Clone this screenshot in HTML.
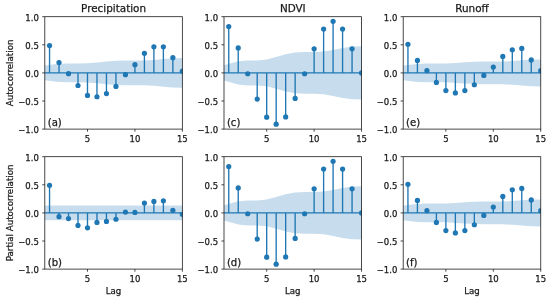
<!DOCTYPE html>
<html><head><meta charset="utf-8"><title>ACF / PACF</title>
<style>html,body{margin:0;padding:0;background:#fff}svg{display:block}</style>
</head><body>
<svg width="550" height="300" viewBox="0 0 550 300" font-family="'DejaVu Sans', 'Liberation Sans', sans-serif" fill="#1a1a1a" stroke="#1a1a1a" stroke-width="0.25">
<rect width="550" height="300" fill="#fff" stroke="none"/>
<clipPath id="c00"><rect x="44.80" y="16.70" width="137.55" height="112.40"/></clipPath>
<g clip-path="url(#c00)">
<polygon stroke="none" fill="#c7dded" points="44.80,65.43 59.03,63.82 68.52,63.62 78.00,63.62 87.49,63.32 96.97,62.43 106.46,61.51 115.95,60.87 125.43,60.60 134.92,60.60 144.41,60.50 153.89,59.97 163.38,59.07 172.86,58.22 187.09,57.95 187.09,87.85 172.86,87.58 163.38,86.73 153.89,85.83 144.41,85.30 134.92,85.20 125.43,85.20 115.95,84.93 106.46,84.29 96.97,83.37 87.49,82.48 78.00,82.18 68.52,82.18 59.03,81.98 44.80,80.37"/>
<path d="M49.54 72.90V45.53M59.03 72.90V62.62M68.52 72.90V73.69M78.00 72.90V85.49M87.49 72.90V95.38M96.97 72.90V96.73M106.46 72.90V93.58M115.95 72.90V86.39M125.43 72.90V74.70M134.92 72.90V64.69M144.41 72.90V53.34M153.89 72.90V46.82M163.38 72.90V46.82M172.86 72.90V57.67M182.35 72.90V71.21" stroke="#1f77b4" stroke-width="1.35" fill="none"/>
<path d="M44.80 72.90H182.35" stroke="#1f77b4" stroke-width="1.4" fill="none"/>
</g>
<g clip-path="url(#c00)" fill="#1f77b4" stroke="none">
<circle cx="49.54" cy="45.53" r="2.6"/>
<circle cx="59.03" cy="62.62" r="2.6"/>
<circle cx="68.52" cy="73.69" r="2.6"/>
<circle cx="78.00" cy="85.49" r="2.6"/>
<circle cx="87.49" cy="95.38" r="2.6"/>
<circle cx="96.97" cy="96.73" r="2.6"/>
<circle cx="106.46" cy="93.58" r="2.6"/>
<circle cx="115.95" cy="86.39" r="2.6"/>
<circle cx="125.43" cy="74.70" r="2.6"/>
<circle cx="134.92" cy="64.69" r="2.6"/>
<circle cx="144.41" cy="53.34" r="2.6"/>
<circle cx="153.89" cy="46.82" r="2.6"/>
<circle cx="163.38" cy="46.82" r="2.6"/>
<circle cx="172.86" cy="57.67" r="2.6"/>
<circle cx="182.35" cy="71.21" r="2.6"/>
</g>
<path d="M44.80 129.10h-2.6M44.80 101.00h-2.6M44.80 72.90h-2.6M44.80 44.80h-2.6M44.80 16.70h-2.6M87.49 129.10v2.6M134.92 129.10v2.6M182.35 129.10v2.6" stroke="#1c1c1c" stroke-width="0.8" fill="none"/>
<rect x="44.80" y="16.70" width="137.55" height="112.40" fill="none" stroke="#1c1c1c" stroke-width="0.8"/>
<g font-size="8.5">
<text x="38.90" y="132.90" text-anchor="end">−1.0</text>
<text x="38.90" y="104.80" text-anchor="end">−0.5</text>
<text x="38.90" y="76.70" text-anchor="end">0.0</text>
<text x="38.90" y="48.60" text-anchor="end">0.5</text>
<text x="38.90" y="20.50" text-anchor="end">1.0</text>
<text x="87.49" y="142.20" text-anchor="middle">5</text>
<text x="134.92" y="142.20" text-anchor="middle">10</text>
<text x="182.35" y="142.20" text-anchor="middle">15</text>
</g>
<text x="47.70" y="126.00" font-size="10.1">(a)</text>
<text x="113.58" y="11.70" font-size="10.4" text-anchor="middle">Precipitation</text>
<text transform="translate(13.0 72.90) rotate(-90)" font-size="8.7" text-anchor="middle">Autocorrelation</text>
<clipPath id="c01"><rect x="44.80" y="156.70" width="137.55" height="112.40"/></clipPath>
<g clip-path="url(#c01)">
<polygon stroke="none" fill="#c7dded" points="44.80,205.59 59.03,205.59 68.52,205.59 78.00,205.59 87.49,205.59 96.97,205.59 106.46,205.59 115.95,205.59 125.43,205.59 134.92,205.59 144.41,205.59 153.89,205.59 163.38,205.59 172.86,205.59 187.09,205.59 187.09,220.21 172.86,220.21 163.38,220.21 153.89,220.21 144.41,220.21 134.92,220.21 125.43,220.21 115.95,220.21 106.46,220.21 96.97,220.21 87.49,220.21 78.00,220.21 68.52,220.21 59.03,220.21 44.80,220.21"/>
<path d="M49.54 212.90V185.36M59.03 212.90V216.72M68.52 212.90V218.58M78.00 212.90V225.43M87.49 212.90V227.79M96.97 212.90V222.45M106.46 212.90V221.44M115.95 212.90V219.25M125.43 212.90V212.06M134.92 212.90V212.45M144.41 212.90V203.12M153.89 212.90V201.44M163.38 212.90V200.76M172.86 212.90V210.31M182.35 212.90V214.30" stroke="#1f77b4" stroke-width="1.35" fill="none"/>
<path d="M44.80 212.90H182.35" stroke="#1f77b4" stroke-width="1.4" fill="none"/>
</g>
<g clip-path="url(#c01)" fill="#1f77b4" stroke="none">
<circle cx="49.54" cy="185.36" r="2.6"/>
<circle cx="59.03" cy="216.72" r="2.6"/>
<circle cx="68.52" cy="218.58" r="2.6"/>
<circle cx="78.00" cy="225.43" r="2.6"/>
<circle cx="87.49" cy="227.79" r="2.6"/>
<circle cx="96.97" cy="222.45" r="2.6"/>
<circle cx="106.46" cy="221.44" r="2.6"/>
<circle cx="115.95" cy="219.25" r="2.6"/>
<circle cx="125.43" cy="212.06" r="2.6"/>
<circle cx="134.92" cy="212.45" r="2.6"/>
<circle cx="144.41" cy="203.12" r="2.6"/>
<circle cx="153.89" cy="201.44" r="2.6"/>
<circle cx="163.38" cy="200.76" r="2.6"/>
<circle cx="172.86" cy="210.31" r="2.6"/>
<circle cx="182.35" cy="214.30" r="2.6"/>
</g>
<path d="M44.80 269.10h-2.6M44.80 241.00h-2.6M44.80 212.90h-2.6M44.80 184.80h-2.6M44.80 156.70h-2.6M87.49 269.10v2.6M134.92 269.10v2.6M182.35 269.10v2.6" stroke="#1c1c1c" stroke-width="0.8" fill="none"/>
<rect x="44.80" y="156.70" width="137.55" height="112.40" fill="none" stroke="#1c1c1c" stroke-width="0.8"/>
<g font-size="8.5">
<text x="38.90" y="272.90" text-anchor="end">−1.0</text>
<text x="38.90" y="244.80" text-anchor="end">−0.5</text>
<text x="38.90" y="216.70" text-anchor="end">0.0</text>
<text x="38.90" y="188.60" text-anchor="end">0.5</text>
<text x="38.90" y="160.50" text-anchor="end">1.0</text>
<text x="87.49" y="282.20" text-anchor="middle">5</text>
<text x="134.92" y="282.20" text-anchor="middle">10</text>
<text x="182.35" y="282.20" text-anchor="middle">15</text>
</g>
<text x="47.70" y="266.00" font-size="10.1">(b)</text>
<text x="113.58" y="294.00" font-size="8.6" text-anchor="middle">Lag</text>
<text transform="translate(13.0 212.90) rotate(-90)" font-size="8.7" text-anchor="middle">Partial Autocorrelation</text>
<clipPath id="c10"><rect x="224.00" y="16.70" width="137.55" height="112.40"/></clipPath>
<g clip-path="url(#c10)">
<polygon stroke="none" fill="#c7dded" points="224.00,65.37 238.23,61.33 247.72,60.40 257.20,60.40 266.69,59.45 276.17,57.05 285.66,54.31 295.15,52.52 304.63,51.96 314.12,51.96 323.61,51.47 333.09,49.91 342.58,47.92 352.06,46.58 366.29,46.19 366.29,99.61 352.06,99.22 342.58,97.88 333.09,95.89 323.61,94.33 314.12,93.84 304.63,93.84 295.15,93.28 285.66,91.49 276.17,88.75 266.69,86.35 257.20,85.40 247.72,85.40 238.23,84.47 224.00,80.43"/>
<path d="M228.74 72.90V26.54M238.23 72.90V47.95M247.72 72.90V73.74M257.20 72.90V99.06M266.69 72.90V117.13M276.17 72.90V124.15M285.66 72.90V116.96M295.15 72.90V98.39M304.63 72.90V73.74M314.12 72.90V48.81M323.61 72.90V29.06M333.09 72.90V21.36M342.58 72.90V29.06M352.06 72.90V48.81M361.55 72.90V72.90" stroke="#1f77b4" stroke-width="1.35" fill="none"/>
<path d="M224.00 72.90H361.55" stroke="#1f77b4" stroke-width="1.4" fill="none"/>
</g>
<g clip-path="url(#c10)" fill="#1f77b4" stroke="none">
<circle cx="228.74" cy="26.54" r="2.6"/>
<circle cx="238.23" cy="47.95" r="2.6"/>
<circle cx="247.72" cy="73.74" r="2.6"/>
<circle cx="257.20" cy="99.06" r="2.6"/>
<circle cx="266.69" cy="117.13" r="2.6"/>
<circle cx="276.17" cy="124.15" r="2.6"/>
<circle cx="285.66" cy="116.96" r="2.6"/>
<circle cx="295.15" cy="98.39" r="2.6"/>
<circle cx="304.63" cy="73.74" r="2.6"/>
<circle cx="314.12" cy="48.81" r="2.6"/>
<circle cx="323.61" cy="29.06" r="2.6"/>
<circle cx="333.09" cy="21.36" r="2.6"/>
<circle cx="342.58" cy="29.06" r="2.6"/>
<circle cx="352.06" cy="48.81" r="2.6"/>
<circle cx="361.55" cy="72.90" r="2.6"/>
</g>
<path d="M224.00 129.10h-2.6M224.00 101.00h-2.6M224.00 72.90h-2.6M224.00 44.80h-2.6M224.00 16.70h-2.6M266.69 129.10v2.6M314.12 129.10v2.6M361.55 129.10v2.6" stroke="#1c1c1c" stroke-width="0.8" fill="none"/>
<rect x="224.00" y="16.70" width="137.55" height="112.40" fill="none" stroke="#1c1c1c" stroke-width="0.8"/>
<g font-size="8.5">
<text x="218.10" y="132.90" text-anchor="end">−1.0</text>
<text x="218.10" y="104.80" text-anchor="end">−0.5</text>
<text x="218.10" y="76.70" text-anchor="end">0.0</text>
<text x="218.10" y="48.60" text-anchor="end">0.5</text>
<text x="218.10" y="20.50" text-anchor="end">1.0</text>
<text x="266.69" y="142.20" text-anchor="middle">5</text>
<text x="314.12" y="142.20" text-anchor="middle">10</text>
<text x="361.55" y="142.20" text-anchor="middle">15</text>
</g>
<text x="226.90" y="126.00" font-size="10.1">(c)</text>
<text x="292.77" y="11.70" font-size="10.4" text-anchor="middle">NDVI</text>
<clipPath id="c11"><rect x="224.00" y="156.70" width="137.55" height="112.40"/></clipPath>
<g clip-path="url(#c11)">
<polygon stroke="none" fill="#c7dded" points="224.00,205.37 238.23,201.33 247.72,200.40 257.20,200.40 266.69,199.45 276.17,197.05 285.66,194.31 295.15,192.52 304.63,191.96 314.12,191.96 323.61,191.47 333.09,189.91 342.58,187.92 352.06,186.58 366.29,186.19 366.29,239.61 352.06,239.22 342.58,237.88 333.09,235.89 323.61,234.33 314.12,233.84 304.63,233.84 295.15,233.28 285.66,231.49 276.17,228.75 266.69,226.35 257.20,225.40 247.72,225.40 238.23,224.47 224.00,220.43"/>
<path d="M228.74 212.90V166.53M238.23 212.90V187.95M247.72 212.90V213.74M257.20 212.90V239.06M266.69 212.90V257.13M276.17 212.90V264.15M285.66 212.90V256.96M295.15 212.90V238.39M304.63 212.90V213.74M314.12 212.90V188.81M323.61 212.90V169.06M333.09 212.90V161.36M342.58 212.90V169.06M352.06 212.90V188.81M361.55 212.90V212.90" stroke="#1f77b4" stroke-width="1.35" fill="none"/>
<path d="M224.00 212.90H361.55" stroke="#1f77b4" stroke-width="1.4" fill="none"/>
</g>
<g clip-path="url(#c11)" fill="#1f77b4" stroke="none">
<circle cx="228.74" cy="166.53" r="2.6"/>
<circle cx="238.23" cy="187.95" r="2.6"/>
<circle cx="247.72" cy="213.74" r="2.6"/>
<circle cx="257.20" cy="239.06" r="2.6"/>
<circle cx="266.69" cy="257.13" r="2.6"/>
<circle cx="276.17" cy="264.15" r="2.6"/>
<circle cx="285.66" cy="256.96" r="2.6"/>
<circle cx="295.15" cy="238.39" r="2.6"/>
<circle cx="304.63" cy="213.74" r="2.6"/>
<circle cx="314.12" cy="188.81" r="2.6"/>
<circle cx="323.61" cy="169.06" r="2.6"/>
<circle cx="333.09" cy="161.36" r="2.6"/>
<circle cx="342.58" cy="169.06" r="2.6"/>
<circle cx="352.06" cy="188.81" r="2.6"/>
<circle cx="361.55" cy="212.90" r="2.6"/>
</g>
<path d="M224.00 269.10h-2.6M224.00 241.00h-2.6M224.00 212.90h-2.6M224.00 184.80h-2.6M224.00 156.70h-2.6M266.69 269.10v2.6M314.12 269.10v2.6M361.55 269.10v2.6" stroke="#1c1c1c" stroke-width="0.8" fill="none"/>
<rect x="224.00" y="156.70" width="137.55" height="112.40" fill="none" stroke="#1c1c1c" stroke-width="0.8"/>
<g font-size="8.5">
<text x="218.10" y="272.90" text-anchor="end">−1.0</text>
<text x="218.10" y="244.80" text-anchor="end">−0.5</text>
<text x="218.10" y="216.70" text-anchor="end">0.0</text>
<text x="218.10" y="188.60" text-anchor="end">0.5</text>
<text x="218.10" y="160.50" text-anchor="end">1.0</text>
<text x="266.69" y="282.20" text-anchor="middle">5</text>
<text x="314.12" y="282.20" text-anchor="middle">10</text>
<text x="361.55" y="282.20" text-anchor="middle">15</text>
</g>
<text x="226.90" y="266.00" font-size="10.1">(d)</text>
<text x="292.77" y="294.00" font-size="8.6" text-anchor="middle">Lag</text>
<clipPath id="c20"><rect x="403.20" y="16.70" width="137.55" height="112.40"/></clipPath>
<g clip-path="url(#c20)">
<polygon stroke="none" fill="#c7dded" points="403.20,65.59 417.43,63.89 426.92,63.60 436.40,63.60 445.89,63.43 455.37,62.89 464.86,62.23 474.35,61.74 483.83,61.53 493.32,61.52 502.81,61.47 512.29,61.08 521.78,60.34 531.26,59.55 545.49,59.34 545.49,86.46 531.26,86.25 521.78,85.46 512.29,84.72 502.81,84.33 493.32,84.28 483.83,84.27 474.35,84.06 464.86,83.57 455.37,82.91 445.89,82.37 436.40,82.20 426.92,82.20 417.43,81.91 403.20,80.21"/>
<path d="M407.94 72.90V44.24M417.43 72.90V60.42M426.92 72.90V70.65M436.40 72.90V82.45M445.89 72.90V90.60M455.37 72.90V92.96M464.86 72.90V90.60M474.35 72.90V84.76M483.83 72.90V75.43M493.32 72.90V67.11M502.81 72.90V56.43M512.29 72.90V49.75M521.78 72.90V48.40M531.26 72.90V59.97M540.75 72.90V70.65" stroke="#1f77b4" stroke-width="1.35" fill="none"/>
<path d="M403.20 72.90H540.75" stroke="#1f77b4" stroke-width="1.4" fill="none"/>
</g>
<g clip-path="url(#c20)" fill="#1f77b4" stroke="none">
<circle cx="407.94" cy="44.24" r="2.6"/>
<circle cx="417.43" cy="60.42" r="2.6"/>
<circle cx="426.92" cy="70.65" r="2.6"/>
<circle cx="436.40" cy="82.45" r="2.6"/>
<circle cx="445.89" cy="90.60" r="2.6"/>
<circle cx="455.37" cy="92.96" r="2.6"/>
<circle cx="464.86" cy="90.60" r="2.6"/>
<circle cx="474.35" cy="84.76" r="2.6"/>
<circle cx="483.83" cy="75.43" r="2.6"/>
<circle cx="493.32" cy="67.11" r="2.6"/>
<circle cx="502.81" cy="56.43" r="2.6"/>
<circle cx="512.29" cy="49.75" r="2.6"/>
<circle cx="521.78" cy="48.40" r="2.6"/>
<circle cx="531.26" cy="59.97" r="2.6"/>
<circle cx="540.75" cy="70.65" r="2.6"/>
</g>
<path d="M403.20 129.10h-2.6M403.20 101.00h-2.6M403.20 72.90h-2.6M403.20 44.80h-2.6M403.20 16.70h-2.6M445.89 129.10v2.6M493.32 129.10v2.6M540.75 129.10v2.6" stroke="#1c1c1c" stroke-width="0.8" fill="none"/>
<rect x="403.20" y="16.70" width="137.55" height="112.40" fill="none" stroke="#1c1c1c" stroke-width="0.8"/>
<g font-size="8.5">
<text x="397.30" y="132.90" text-anchor="end">−1.0</text>
<text x="397.30" y="104.80" text-anchor="end">−0.5</text>
<text x="397.30" y="76.70" text-anchor="end">0.0</text>
<text x="397.30" y="48.60" text-anchor="end">0.5</text>
<text x="397.30" y="20.50" text-anchor="end">1.0</text>
<text x="445.89" y="142.20" text-anchor="middle">5</text>
<text x="493.32" y="142.20" text-anchor="middle">10</text>
<text x="540.75" y="142.20" text-anchor="middle">15</text>
</g>
<text x="406.10" y="126.00" font-size="10.1">(e)</text>
<text x="471.98" y="11.70" font-size="10.4" text-anchor="middle">Runoff</text>
<clipPath id="c21"><rect x="403.20" y="156.70" width="137.55" height="112.40"/></clipPath>
<g clip-path="url(#c21)">
<polygon stroke="none" fill="#c7dded" points="403.20,205.59 417.43,203.89 426.92,203.60 436.40,203.60 445.89,203.43 455.37,202.89 464.86,202.23 474.35,201.74 483.83,201.53 493.32,201.52 502.81,201.47 512.29,201.08 521.78,200.34 531.26,199.55 545.49,199.34 545.49,226.46 531.26,226.25 521.78,225.46 512.29,224.72 502.81,224.33 493.32,224.28 483.83,224.27 474.35,224.06 464.86,223.57 455.37,222.91 445.89,222.37 436.40,222.20 426.92,222.20 417.43,221.91 403.20,220.21"/>
<path d="M407.94 212.90V184.24M417.43 212.90V200.42M426.92 212.90V210.65M436.40 212.90V222.45M445.89 212.90V230.60M455.37 212.90V232.96M464.86 212.90V230.60M474.35 212.90V224.76M483.83 212.90V215.43M493.32 212.90V207.11M502.81 212.90V196.43M512.29 212.90V189.75M521.78 212.90V188.40M531.26 212.90V199.97M540.75 212.90V210.65" stroke="#1f77b4" stroke-width="1.35" fill="none"/>
<path d="M403.20 212.90H540.75" stroke="#1f77b4" stroke-width="1.4" fill="none"/>
</g>
<g clip-path="url(#c21)" fill="#1f77b4" stroke="none">
<circle cx="407.94" cy="184.24" r="2.6"/>
<circle cx="417.43" cy="200.42" r="2.6"/>
<circle cx="426.92" cy="210.65" r="2.6"/>
<circle cx="436.40" cy="222.45" r="2.6"/>
<circle cx="445.89" cy="230.60" r="2.6"/>
<circle cx="455.37" cy="232.96" r="2.6"/>
<circle cx="464.86" cy="230.60" r="2.6"/>
<circle cx="474.35" cy="224.76" r="2.6"/>
<circle cx="483.83" cy="215.43" r="2.6"/>
<circle cx="493.32" cy="207.11" r="2.6"/>
<circle cx="502.81" cy="196.43" r="2.6"/>
<circle cx="512.29" cy="189.75" r="2.6"/>
<circle cx="521.78" cy="188.40" r="2.6"/>
<circle cx="531.26" cy="199.97" r="2.6"/>
<circle cx="540.75" cy="210.65" r="2.6"/>
</g>
<path d="M403.20 269.10h-2.6M403.20 241.00h-2.6M403.20 212.90h-2.6M403.20 184.80h-2.6M403.20 156.70h-2.6M445.89 269.10v2.6M493.32 269.10v2.6M540.75 269.10v2.6" stroke="#1c1c1c" stroke-width="0.8" fill="none"/>
<rect x="403.20" y="156.70" width="137.55" height="112.40" fill="none" stroke="#1c1c1c" stroke-width="0.8"/>
<g font-size="8.5">
<text x="397.30" y="272.90" text-anchor="end">−1.0</text>
<text x="397.30" y="244.80" text-anchor="end">−0.5</text>
<text x="397.30" y="216.70" text-anchor="end">0.0</text>
<text x="397.30" y="188.60" text-anchor="end">0.5</text>
<text x="397.30" y="160.50" text-anchor="end">1.0</text>
<text x="445.89" y="282.20" text-anchor="middle">5</text>
<text x="493.32" y="282.20" text-anchor="middle">10</text>
<text x="540.75" y="282.20" text-anchor="middle">15</text>
</g>
<text x="406.10" y="266.00" font-size="10.1">(f)</text>
<text x="471.98" y="294.00" font-size="8.6" text-anchor="middle">Lag</text>
</svg>
</body></html>
